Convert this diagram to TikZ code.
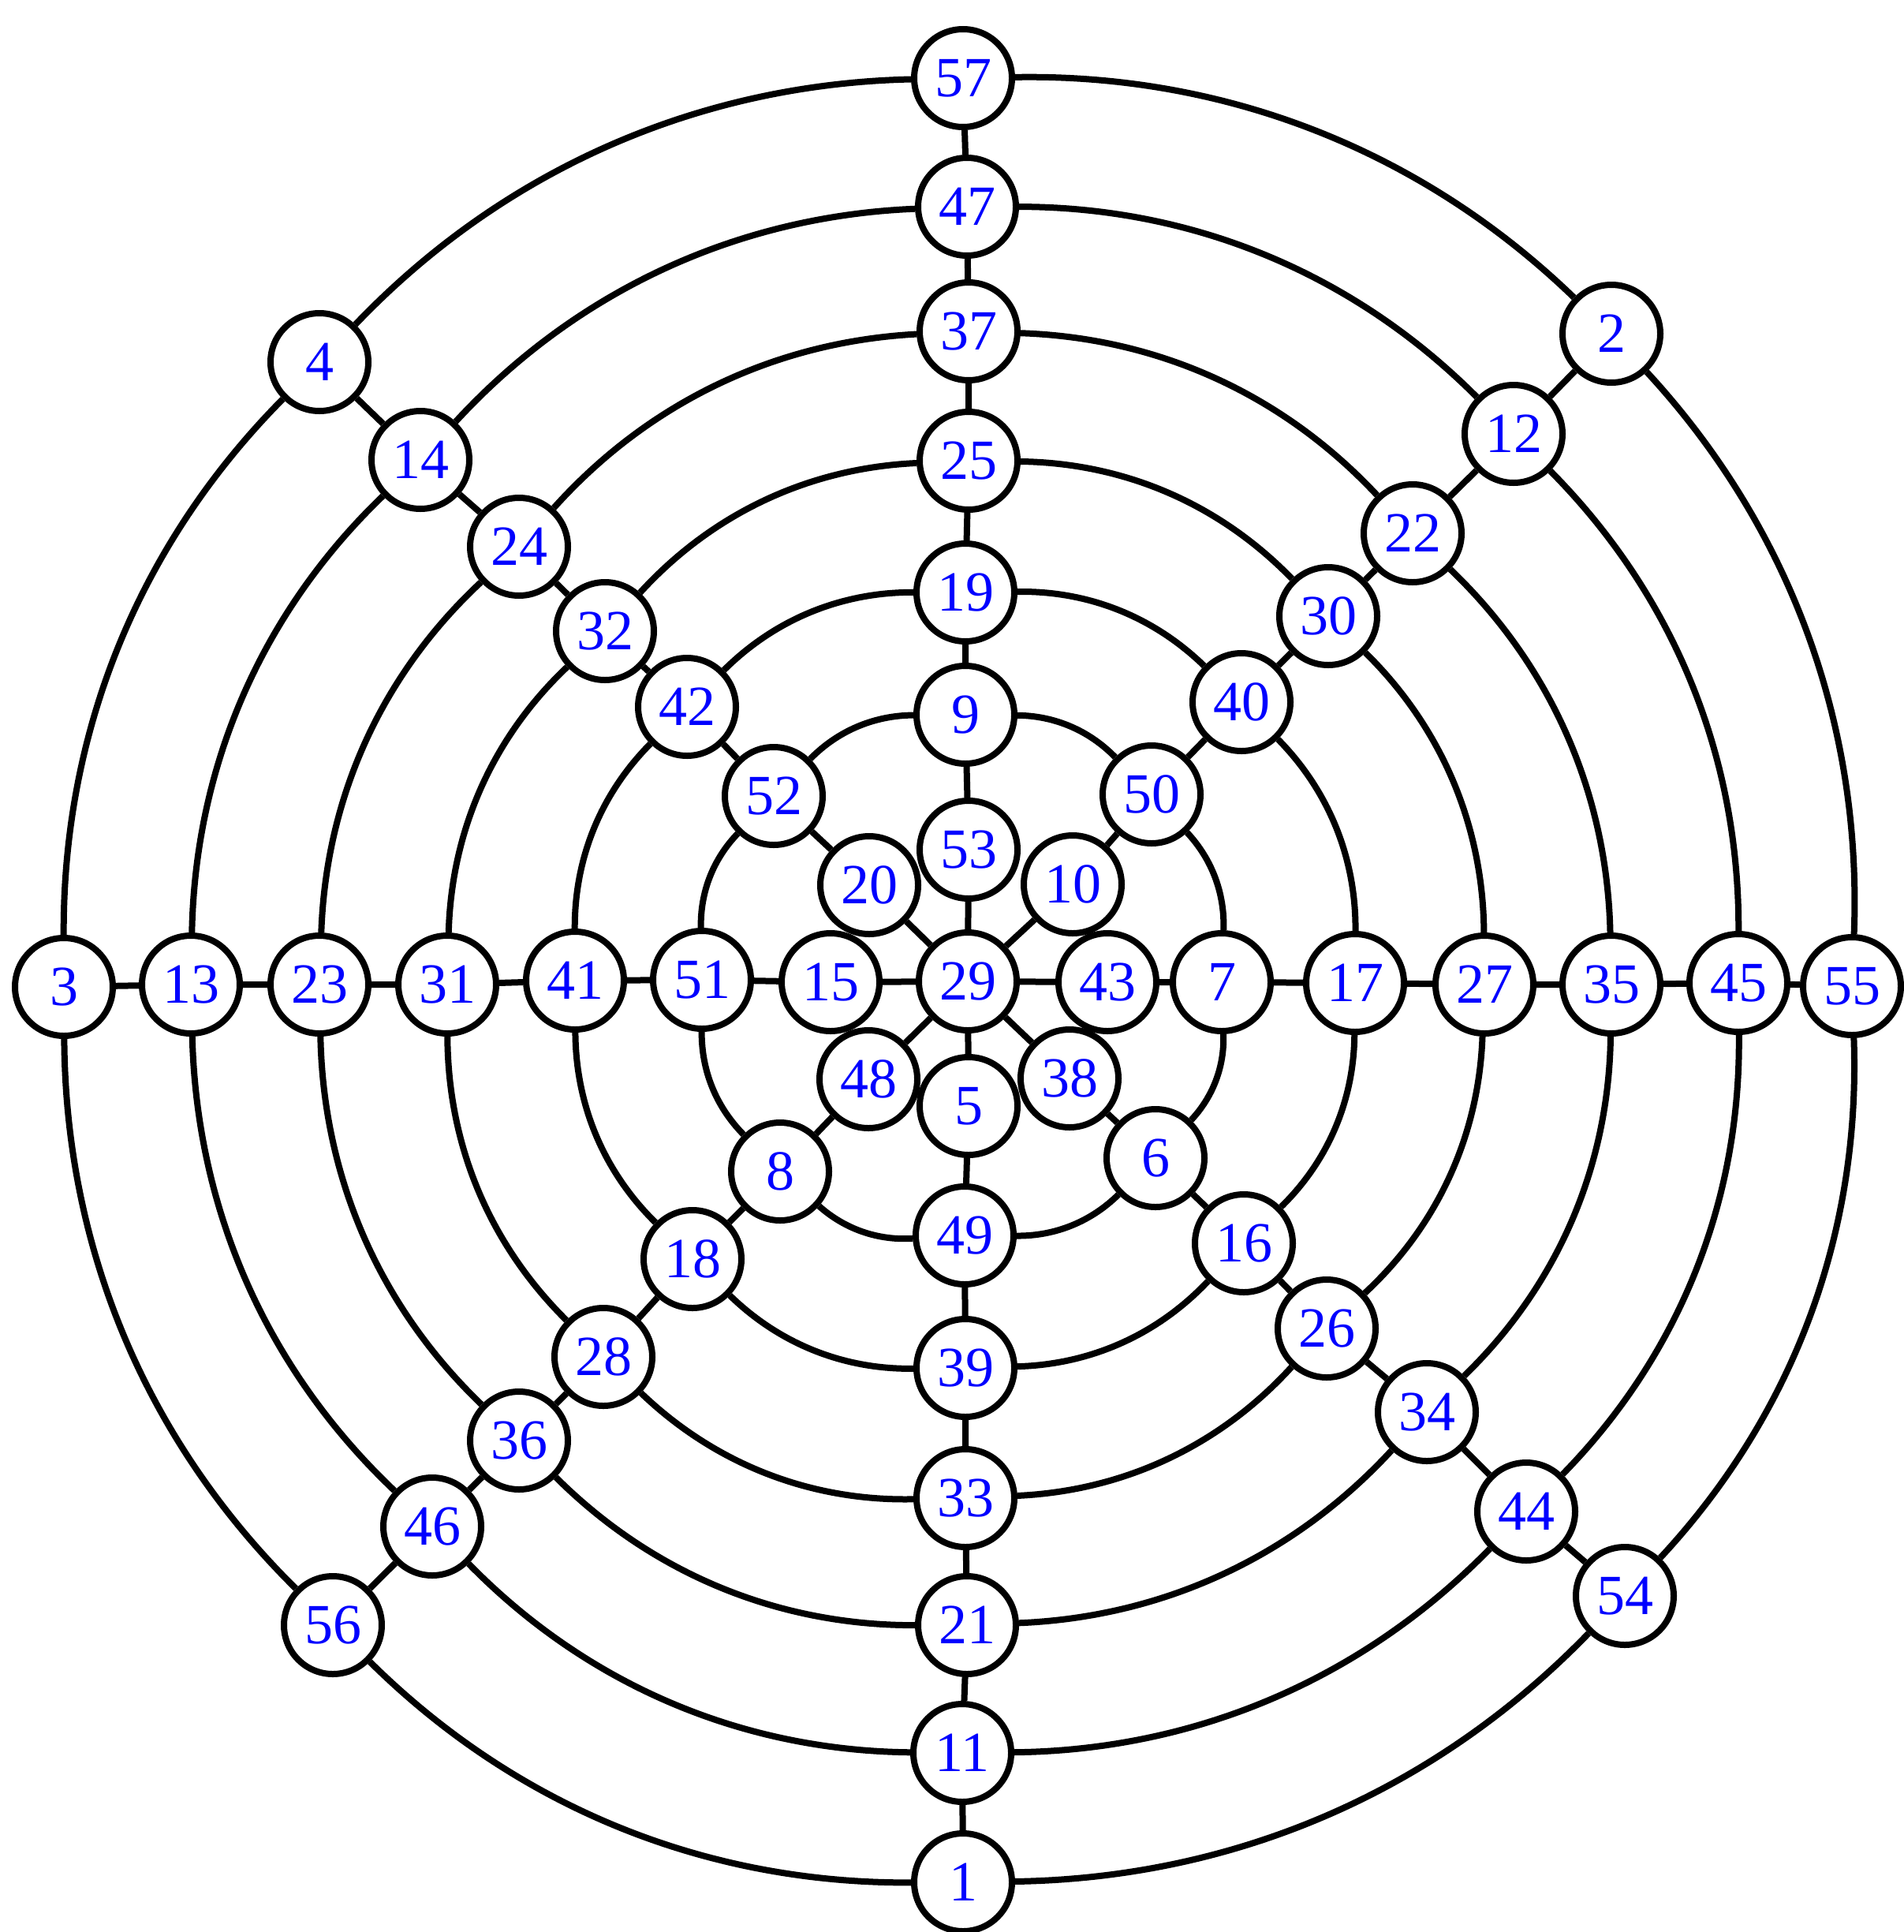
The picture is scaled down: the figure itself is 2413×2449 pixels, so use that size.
\documentclass[tikz,border=0pt]{standalone}
\usepackage{fontspec}
\setmainfont{Liberation Serif}
\begin{document}
\begin{tikzpicture}[x=1pt,y=-1pt,
  vtx/.style={circle, draw=black, line width=8pt, fill=white, minimum size=124pt, inner sep=0pt, text=blue, font=\fontsize{72}{72}\selectfont},
  edge/.style={line width=8pt, black},
  arc/.style={edge, bend left=22.5, looseness=0.9}]
\useasboundingbox (0,0) rectangle (2413,2449);
% centre
\node[vtx] (n29) at (1227,1244) {29};
% inner ring
\node[vtx] (n53) at (1228,1077) {53};
\node[vtx] (n10) at (1360,1121) {10};
\node[vtx] (n43) at (1404,1245) {43};
\node[vtx] (n38) at (1356,1367) {38};
\node[vtx] (n5)  at (1228,1402) {5};
\node[vtx] (n48) at (1101,1368) {48};
\node[vtx] (n15) at (1053,1245) {15};
\node[vtx] (n20) at (1102,1122) {20};
% ring 2
\node[vtx] (n9)  at (1224,906) {9};
\node[vtx] (n50) at (1460,1007) {50};
\node[vtx] (n7)  at (1549,1245) {7};
\node[vtx] (n6)  at (1465,1468) {6};
\node[vtx] (n49) at (1223,1566) {49};
\node[vtx] (n8)  at (989,1485) {8};
\node[vtx] (n51) at (890,1242) {51};
\node[vtx] (n52) at (981,1009) {52};
% ring 3
\node[vtx] (n19) at (1224,751) {19};
\node[vtx] (n40) at (1574,890) {40};
\node[vtx] (n17) at (1718,1246) {17};
\node[vtx] (n16) at (1577,1576) {16};
\node[vtx] (n39) at (1224,1734) {39};
\node[vtx] (n18) at (878,1596) {18};
\node[vtx] (n41) at (729,1243) {41};
\node[vtx] (n42) at (871,896) {42};
% ring 4
\node[vtx] (n25) at (1228,584) {25};
\node[vtx] (n30) at (1684,781) {30};
\node[vtx] (n27) at (1882,1248) {27};
\node[vtx] (n26) at (1682,1684) {26};
\node[vtx] (n33) at (1224,1899) {33};
\node[vtx] (n28) at (765,1720) {28};
\node[vtx] (n31) at (567,1248) {31};
\node[vtx] (n32) at (767,800) {32};
% ring 5
\node[vtx] (n37) at (1228,420) {37};
\node[vtx] (n22) at (1791,676) {22};
\node[vtx] (n35) at (2043,1248) {35};
\node[vtx] (n34) at (1809,1790) {34};
\node[vtx] (n21) at (1226,2060) {21};
\node[vtx] (n36) at (658,1826) {36};
\node[vtx] (n23) at (405,1248) {23};
\node[vtx] (n24) at (658,693) {24};
% ring 6
\node[vtx] (n47) at (1226,262) {47};
\node[vtx] (n12) at (1919,550) {12};
\node[vtx] (n45) at (2204,1246) {45};
\node[vtx] (n44) at (1935,1916) {44};
\node[vtx] (n11) at (1220,2222) {11};
\node[vtx] (n46) at (548,1935) {46};
\node[vtx] (n13) at (242,1248) {13};
\node[vtx] (n14) at (533,583) {14};
% ring 7
\node[vtx] (n57) at (1221,99) {57};
\node[vtx] (n2)  at (2043,423) {2};
\node[vtx] (n55) at (2348,1250) {55};
\node[vtx] (n54) at (2060,2023) {54};
\node[vtx] (n1)  at (1221,2386) {1};
\node[vtx] (n56) at (422,2060) {56};
\node[vtx] (n3)  at (81,1251) {3};
\node[vtx] (n4)  at (405,459) {4};
% spokes
\foreach \a/\b/\c/\d/\e/\f/\g in {53/9/19/25/37/47/57, 10/50/40/30/22/12/2, 43/7/17/27/35/45/55, 38/6/16/26/34/44/54, 5/49/39/33/21/11/1, 48/8/18/28/36/46/56, 15/51/41/31/23/13/3, 20/52/42/32/24/14/4}
  \draw[edge] (n29) -- (n\a) -- (n\b) -- (n\c) -- (n\d) -- (n\e) -- (n\f) -- (n\g);
% rings
\foreach \a/\b/\c/\d/\e/\f/\g/\h in {9/50/7/6/49/8/51/52, 19/40/17/16/39/18/41/42, 25/30/27/26/33/28/31/32, 37/22/35/34/21/36/23/24, 47/12/45/44/11/46/13/14, 57/2/55/54/1/56/3/4}
  \draw[arc] (n\a) to (n\b) (n\b) to (n\c) (n\c) to (n\d) (n\d) to (n\e) (n\e) to (n\f) (n\f) to (n\g) (n\g) to (n\h) (n\h) to (n\a);
\end{tikzpicture}
\end{document}
